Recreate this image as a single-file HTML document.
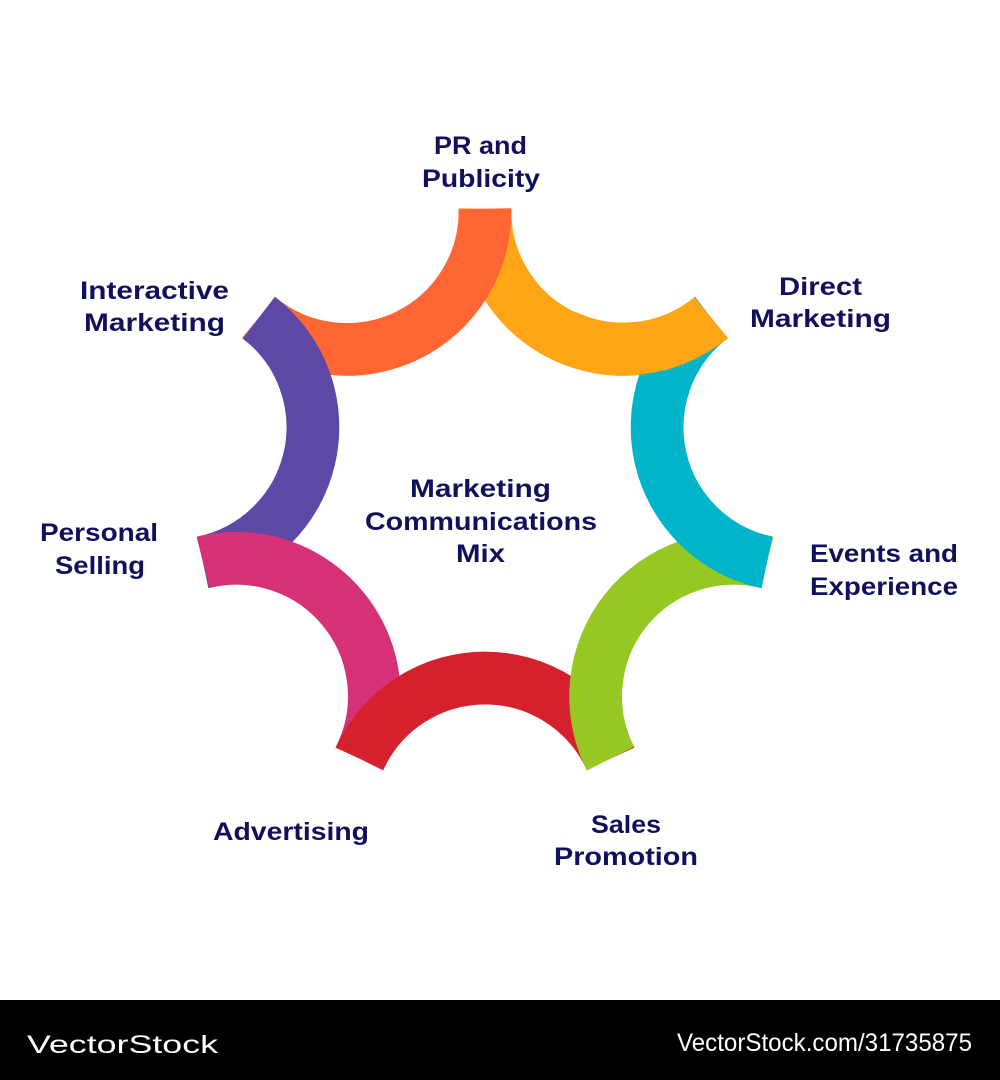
<!DOCTYPE html>
<html><head><meta charset="utf-8"><style>
html,body{margin:0;padding:0;background:#fff;}
svg{display:block;}
text{font-family:"Liberation Sans",sans-serif;font-weight:bold;fill:#10105c;font-size:25px;}
.f{fill:#fff;font-weight:normal;}
</style></head><body>
<svg width="1000" height="1080" viewBox="0 0 1000 1080" xmlns="http://www.w3.org/2000/svg">
<rect width="1000" height="1080" fill="#fff"/>
<g fill="none" stroke-width="52" stroke-linecap="butt" transform="translate(0,8) translate(485 490) scale(1.015) translate(-485 -490)">
<path d="M 262.2 312.3 A 136 136 0 0 0 485 205" stroke="#FFA516" transform="rotate(51.43 485 490)"/>
<path d="M 262.2 312.3 A 136 136 0 0 0 485 205" stroke="#FF6633"/>
<path d="M 262.2 312.3 A 136 136 0 0 0 485 205" stroke="#5E48A6" transform="rotate(-51.43 485 490)"/>
<path d="M 262.2 312.3 A 136 136 0 0 0 485 205" stroke="#D63177" transform="rotate(-102.86 485 490)"/>
<path d="M 262.2 312.3 A 136 136 0 0 0 485 205" stroke="#D4212D" transform="rotate(-154.29 485 490)"/>
<path d="M 262.2 312.3 A 136 136 0 0 0 485 205" stroke="#95C823" transform="rotate(154.29 485 490)"/>
<path d="M 262.2 312.3 A 136 136 0 0 0 485 205" stroke="#00B5C9" transform="rotate(102.86 485 490)"/>
<path d="M 407.8 329.6 A 136 136 0 0 0 485 205" stroke="#FFA516" transform="rotate(51.43 485 490)"/>
</g>
<text x="434" y="154" textLength="93" lengthAdjust="spacingAndGlyphs">PR and</text>
<text x="422" y="187" textLength="118" lengthAdjust="spacingAndGlyphs">Publicity</text>
<text x="80" y="299" textLength="149" lengthAdjust="spacingAndGlyphs">Interactive</text>
<text x="84" y="331" textLength="141" lengthAdjust="spacingAndGlyphs">Marketing</text>
<text x="779" y="295" textLength="83" lengthAdjust="spacingAndGlyphs">Direct</text>
<text x="750" y="327" textLength="141" lengthAdjust="spacingAndGlyphs">Marketing</text>
<text x="810" y="562" textLength="148" lengthAdjust="spacingAndGlyphs">Events and</text>
<text x="810" y="595" textLength="148" lengthAdjust="spacingAndGlyphs">Experience</text>
<text x="591" y="833" textLength="70" lengthAdjust="spacingAndGlyphs">Sales</text>
<text x="554" y="865" textLength="144" lengthAdjust="spacingAndGlyphs">Promotion</text>
<text x="213" y="840" textLength="156" lengthAdjust="spacingAndGlyphs">Advertising</text>
<text x="40" y="541" textLength="118" lengthAdjust="spacingAndGlyphs">Personal</text>
<text x="55" y="574" textLength="90" lengthAdjust="spacingAndGlyphs">Selling</text>
<text x="410" y="497" textLength="141" lengthAdjust="spacingAndGlyphs">Marketing</text>
<text x="365" y="530" textLength="232" lengthAdjust="spacingAndGlyphs">Communications</text>
<text x="456" y="562" textLength="49" lengthAdjust="spacingAndGlyphs">Mix</text>
<rect x="0" y="1000" width="1000" height="80" fill="#000"/>
<text class="f" x="27" y="1053" font-size="44" textLength="191" lengthAdjust="spacingAndGlyphs">VectorStock</text>
<text class="f" x="677" y="1051" font-size="27" textLength="295" lengthAdjust="spacingAndGlyphs">VectorStock.com/31735875</text>
</svg>
</body></html>
